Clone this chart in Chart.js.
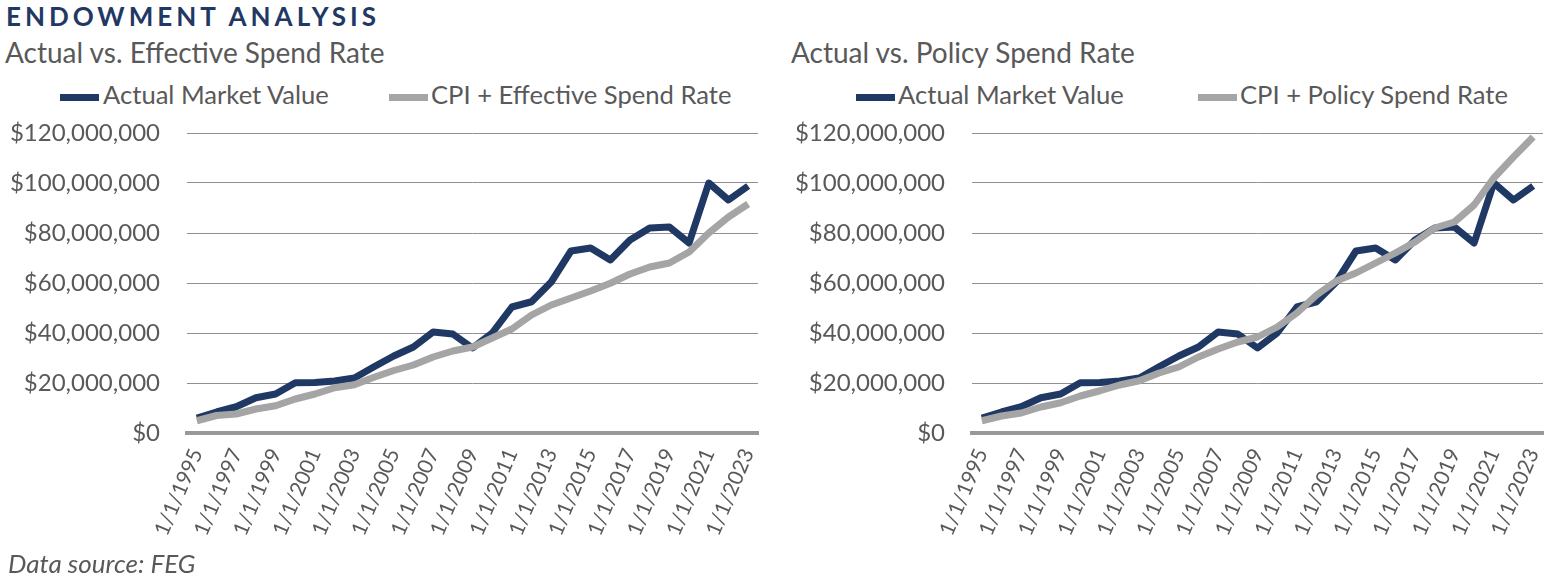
<!DOCTYPE html>
<html>
<head>
<meta charset="utf-8">
<script src="https://cdn.jsdelivr.net/npm/chart.js@4.4.1/dist/chart.umd.min.js"></script>
<style>
    body { margin: 0; background: #fff; font-family: 'Lato', sans-serif; }
    #page { position: relative; width: 1548px; height: 580px; overflow: hidden; }
    .txt { position: absolute; white-space: nowrap; line-height: 1; }
    .titulo { left: 6px; top: 3px; font-size: 26px; font-weight: bold; color: #1f3864; letter-spacing: 4px; }
    .subtitulo { top: 38px; font-size: 28px; color: #595959; }
    .leyenda { top: 82px; font-size: 25.6px; color: #595959; }
    .marca { position: absolute; top: 94px; width: 39px; height: 7px; }
    .fuente { left: 8px; top: 550px; font-size: 26px; font-style: italic; color: #595959; }
    canvas { position: absolute; }
</style>
</head>
<body>
<div id="page">
    <div class="txt titulo">ENDOWMENT ANALYSIS</div>

    <div class="txt subtitulo" style="left:5px">Actual vs. Effective Spend Rate</div>
    <div class="marca" style="left:60px; background:#1f3864"></div>
    <div class="txt leyenda" style="left:103px">Actual Market Value</div>
    <div class="marca" style="left:389px; background:#a5a5a5"></div>
    <div class="txt leyenda" style="left:431px">CPI + Effective Spend Rate</div>

    <div class="txt subtitulo" style="left:791px">Actual vs. Policy Spend Rate</div>
    <div class="marca" style="left:856px; background:#1f3864"></div>
    <div class="txt leyenda" style="left:898px">Actual Market Value</div>
    <div class="marca" style="left:1198px; background:#a5a5a5"></div>
    <div class="txt leyenda" style="left:1240px">CPI + Policy Spend Rate</div>

    <canvas id="graficoEfectivo" style="left:0; top:100px"></canvas>
    <canvas id="graficoPolitica" style="left:770px; top:100px"></canvas>

    <div class="txt fuente">Data source: FEG</div>
</div>

<script>
const fechas = [
    '1/1/1995', '1/1/1996', '1/1/1997', '1/1/1998', '1/1/1999', '1/1/2000',
    '1/1/2001', '1/1/2002', '1/1/2003', '1/1/2004', '1/1/2005', '1/1/2006',
    '1/1/2007', '1/1/2008', '1/1/2009', '1/1/2010', '1/1/2011', '1/1/2012',
    '1/1/2013', '1/1/2014', '1/1/2015', '1/1/2016', '1/1/2017', '1/1/2018',
    '1/1/2019', '1/1/2020', '1/1/2021', '1/1/2022', '1/1/2023'
];

const valorMercado = [
    6000000, 8400000, 10500000, 14100000, 15600000, 20100000,
    20200000, 20800000, 22000000, 26500000, 30800000, 34400000,
    40400000, 39600000, 34000000, 40000000, 50400000, 52500000,
    60400000, 72800000, 74000000, 69200000, 77200000, 82000000,
    82400000, 76000000, 100000000, 93200000, 98800000
];

const cpiEfectivo = [
    4900000, 7000000, 7600000, 9600000, 10900000, 13600000,
    15600000, 18100000, 19300000, 22300000, 25000000, 27200000,
    30400000, 32800000, 34400000, 38000000, 41600000, 47200000,
    51200000, 54000000, 56800000, 59900000, 63600000, 66400000,
    68000000, 72400000, 80000000, 86400000, 91600000
];

const cpiPolitica = [
    4900000, 6800000, 8000000, 10400000, 12100000, 14800000,
    16900000, 19200000, 20900000, 24000000, 26400000, 30400000,
    33600000, 36400000, 38400000, 42400000, 48000000, 55200000,
    60800000, 64000000, 68000000, 72000000, 76400000, 82000000,
    84400000, 91200000, 102000000, 110400000, 118400000
];

const ejeY = [0, 20000000, 40000000, 60000000, 80000000, 100000000, 120000000];

const AZUL = '#1f3864';
const GRIS = '#a5a5a5';
const TEXTO = '#595959';

// quita los rellenos automáticos de las escalas para que el área quede fija
function sinRelleno(scale) {
    scale.paddingLeft = 0;
    scale.paddingRight = 0;
    scale.paddingTop = 0;
    scale.paddingBottom = 0;
}

function crearGrafico(id, cpiData, ancho, anchoEjeY, margenDerecho) {
    const canvas = document.getElementById(id);
    canvas.width = ancho;
    canvas.height = 460;
    canvas.style.width = ancho + 'px';
    canvas.style.height = '460px';

    return new Chart(canvas, {
        type: 'line',
        data: {
            labels: fechas,
            datasets: [
                {
                    label: 'Actual Market Value',
                    data: valorMercado,
                    borderColor: AZUL,
                    borderWidth: 7,
                    pointRadius: 0,
                    borderJoinStyle: 'round',
                    order: 1
                },
                {
                    label: 'CPI',
                    data: cpiData,
                    borderColor: GRIS,
                    borderWidth: 7,
                    pointRadius: 0,
                    borderJoinStyle: 'round',
                    order: 0
                }
            ]
        },
        options: {
            responsive: false,
            animation: false,
            layout: { padding: { top: 33, right: margenDerecho, bottom: 0, left: 0 } },
            plugins: {
                legend: { display: false },
                tooltip: { enabled: false }
            },
            scales: {
                x: {
                    offset: true,
                    grid: { display: false, drawTicks: false },
                    border: { display: true, color: '#999999', width: 4 },
                    ticks: {
                        autoSkip: false,
                        minRotation: 67,
                        maxRotation: 67,
                        padding: 12,
                        color: TEXTO,
                        font: { family: 'Lato', size: 21 },
                        callback: function (value, index) {
                            return index % 2 === 0 ? this.getLabelForValue(value) : '';
                        }
                    },
                    afterFit: (scale) => { scale.height = 127; sinRelleno(scale); }
                },
                y: {
                    min: ejeY[0],
                    max: ejeY[ejeY.length - 1],
                    afterBuildTicks: (scale) => { scale.ticks = ejeY.map(v => ({ value: v })); },
                    grid: { color: '#909090', lineWidth: 1, drawTicks: false },
                    border: { display: false },
                    ticks: {
                        padding: 27,
                        color: TEXTO,
                        font: { family: 'Lato', size: 24 },
                        callback: (v) => '$' + v.toLocaleString('en-US')
                    },
                    afterFit: (scale) => { scale.width = anchoEjeY; sinRelleno(scale); }
                }
            }
        }
    });
}

document.fonts.load('24px Lato').then(() => {
    crearGrafico('graficoEfectivo', cpiEfectivo, 770, 187, 12);
    crearGrafico('graficoPolitica', cpiPolitica, 778, 202, 5);
});
</script>
</body>
</html>
